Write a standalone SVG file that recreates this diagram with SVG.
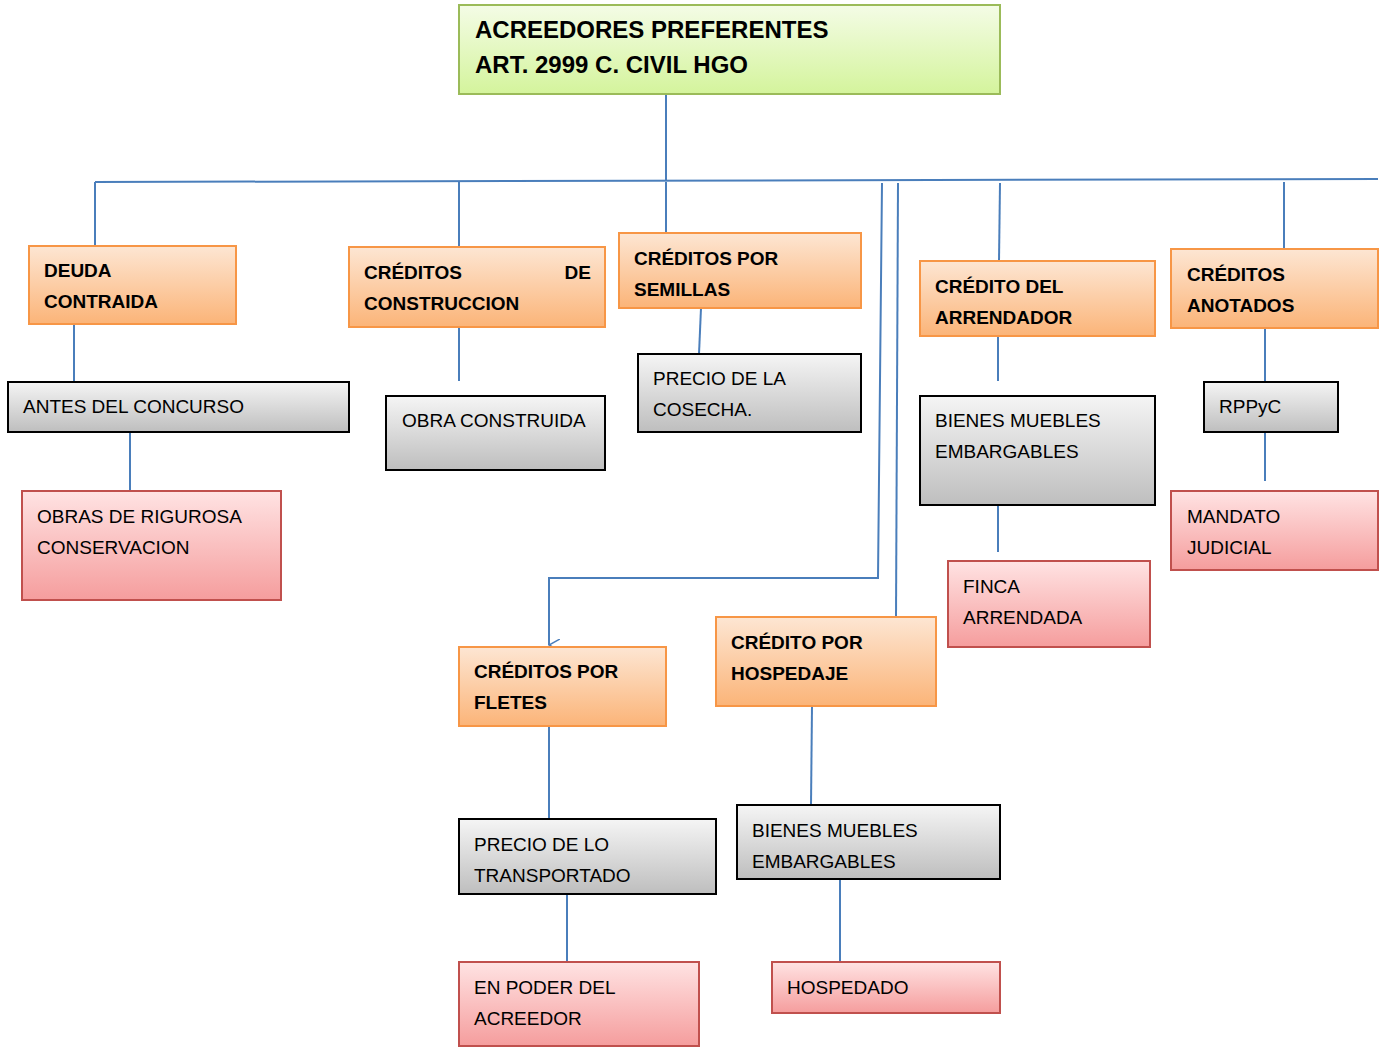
<svg xmlns="http://www.w3.org/2000/svg" width="1386" height="1057" viewBox="0 0 1386 1057">
<defs>
<linearGradient id="gG" x1="0" y1="0" x2="0" y2="1"><stop offset="0" stop-color="#f4fce6"/><stop offset="1" stop-color="#d4f49c"/></linearGradient>
<linearGradient id="gO" x1="0" y1="0" x2="0" y2="1"><stop offset="0" stop-color="#fde6d3"/><stop offset="1" stop-color="#fbb478"/></linearGradient>
<linearGradient id="gY" x1="0" y1="0" x2="0" y2="1"><stop offset="0" stop-color="#f5f5f5"/><stop offset="1" stop-color="#bebebe"/></linearGradient>
<linearGradient id="gP" x1="0" y1="0" x2="0" y2="1"><stop offset="0" stop-color="#ffe3e3"/><stop offset="1" stop-color="#f59d9d"/></linearGradient>
<marker id="arr" viewBox="0 0 12 12" refX="6" refY="11" markerWidth="12" markerHeight="12" markerUnits="userSpaceOnUse" orient="auto-start-reverse"><path d="M0,0 L6,11 L12,0" fill="none" stroke="#4a7ebb" stroke-width="1.5"/></marker>
</defs>
<style>
.g{fill:url(#gG);stroke:#9bbb59;stroke-width:2}
.o{fill:url(#gO);stroke:#f79646;stroke-width:2}
.y{fill:url(#gY);stroke:#000;stroke-width:2}
.p{fill:url(#gP);stroke:#c0504d;stroke-width:2}
text{font-family:"Liberation Sans",Arial,sans-serif;font-size:19px;fill:#000}
.b{font-weight:bold}
.t{font-weight:bold;font-size:24px}
#conn path{fill:none;stroke:#4a7ebb;stroke-width:2}
</style>
<g id="conn">
<path d="M666,94 V180"/><path d="M95,182 L1378,179"/>
<path d="M95,182 V246"/><path d="M459,182 V247"/><path d="M666,182 V233"/><path d="M1000,183 L999,261"/><path d="M1284,182 V249"/>
<path d="M74,324 V382"/><path d="M130,432 V491"/><path d="M459,327 V381"/><path d="M701,308 L699,354"/>
<path d="M998,336 V381"/><path d="M998,505 V552"/><path d="M1265,328 V382"/><path d="M1265,432 V481"/>
<path d="M882,183 L878,578 H549 V645" marker-end="url(#arr)"/>
<path d="M898,183 L896,617"/>
<path d="M549,726 V819"/><path d="M567,894 V962"/><path d="M812,706 L811,805"/><path d="M840,879 V962"/>
</g>
<g id="root"><rect class="g" x="459" y="5" width="541" height="89"/><text class="t" x="475" y="38">ACREEDORES  PREFERENTES</text><text class="t" x="475" y="73">ART. 2999 C. CIVIL HGO</text></g>
<g id="deuda"><rect class="o" x="29" y="246" width="207" height="78"/><text class="b" x="44" y="277">DEUDA</text><text class="b" x="44" y="308">CONTRAIDA</text></g>
<g id="construccion"><rect class="o" x="349" y="247" width="256" height="80"/><text class="b" x="364" y="279">CRÉDITOS</text><text class="b" x="591" y="279" text-anchor="end">DE</text><text class="b" x="364" y="310">CONSTRUCCION</text></g>
<g id="semillas"><rect class="o" x="619" y="233" width="242" height="75"/><text class="b" x="634" y="265">CRÉDITOS POR</text><text class="b" x="634" y="296">SEMILLAS</text></g>
<g id="arrendador"><rect class="o" x="920" y="261" width="235" height="75"/><text class="b" x="935" y="293">CRÉDITO DEL</text><text class="b" x="935" y="324">ARRENDADOR</text></g>
<g id="anotados"><rect class="o" x="1171" y="249" width="207" height="79"/><text class="b" x="1187" y="281">CRÉDITOS</text><text class="b" x="1187" y="312">ANOTADOS</text></g>
<g id="hospedaje"><rect class="o" x="716" y="617" width="220" height="89"/><text class="b" x="731" y="649">CRÉDITO POR</text><text class="b" x="731" y="680">HOSPEDAJE</text></g>
<g id="fletes"><rect class="o" x="459" y="647" width="207" height="79"/><text class="b" x="474" y="678">CRÉDITOS POR</text><text class="b" x="474" y="709">FLETES</text></g>
<g id="antes"><rect class="y" x="8" y="382" width="341" height="50"/><text x="23" y="413">ANTES DEL CONCURSO</text></g>
<g id="obra"><rect class="y" x="386" y="396" width="219" height="74"/><text x="402" y="427">OBRA CONSTRUIDA</text></g>
<g id="cosecha"><rect class="y" x="638" y="354" width="223" height="78"/><text x="653" y="385">PRECIO DE LA</text><text x="653" y="416">COSECHA.</text></g>
<g id="bienes1"><rect class="y" x="920" y="396" width="235" height="109"/><text x="935" y="427">BIENES MUEBLES</text><text x="935" y="458">EMBARGABLES</text></g>
<g id="rppyc"><rect class="y" x="1204" y="382" width="134" height="50"/><text x="1219" y="413">RPPyC</text></g>
<g id="transportado"><rect class="y" x="459" y="819" width="257" height="75"/><text x="474" y="851">PRECIO DE LO</text><text x="474" y="882">TRANSPORTADO</text></g>
<g id="bienes2"><rect class="y" x="737" y="805" width="263" height="74"/><text x="752" y="837">BIENES MUEBLES</text><text x="752" y="868">EMBARGABLES</text></g>
<g id="obras"><rect class="p" x="22" y="491" width="259" height="109"/><text x="37" y="523">OBRAS DE RIGUROSA</text><text x="37" y="554">CONSERVACION</text></g>
<g id="finca"><rect class="p" x="948" y="561" width="202" height="86"/><text x="963" y="593">FINCA</text><text x="963" y="624">ARRENDADA</text></g>
<g id="mandato"><rect class="p" x="1171" y="491" width="207" height="79"/><text x="1187" y="523">MANDATO</text><text x="1187" y="554">JUDICIAL</text></g>
<g id="poder"><rect class="p" x="459" y="962" width="240" height="84"/><text x="474" y="994">EN PODER DEL</text><text x="474" y="1025">ACREEDOR</text></g>
<g id="hospedado"><rect class="p" x="772" y="962" width="228" height="51"/><text x="787" y="994">HOSPEDADO</text></g>
</svg>
